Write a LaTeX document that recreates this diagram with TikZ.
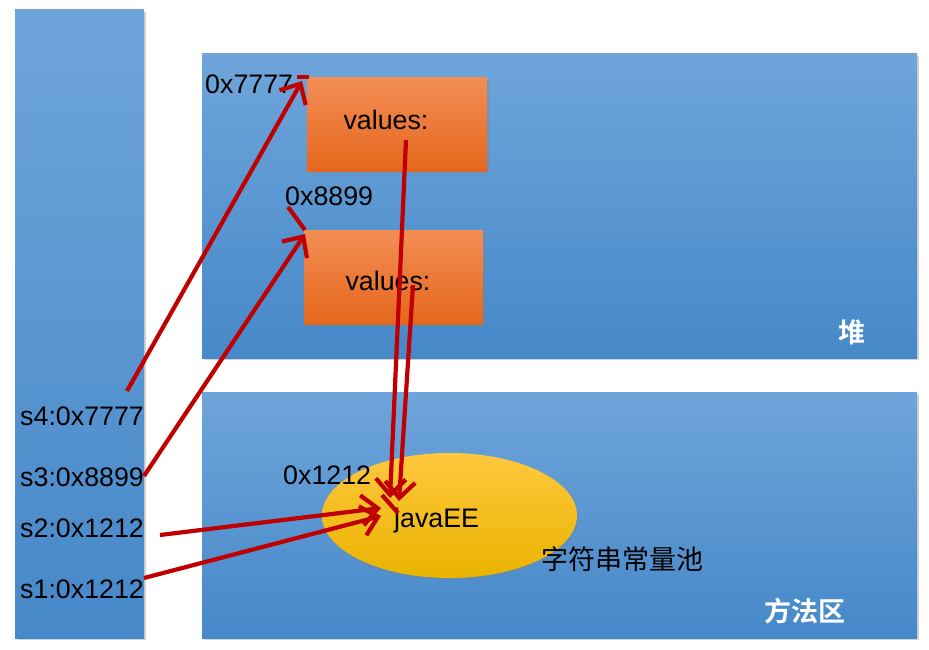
\documentclass[tikz,border=0pt]{standalone}
\usepackage{fontspec}
\setmainfont{Liberation Sans}
\newfontfamily\cjk{Noto Sans CJK SC}
\newfontfamily\cjkb{Noto Sans CJK SC Bold}
\usetikzlibrary{shapes.geometric,arrows.meta,shadows}
\definecolor{bluetop}{HTML}{6EA5DA}
\definecolor{bluebot}{HTML}{4688C9}
\definecolor{orgtop}{HTML}{F38D55}
\definecolor{orgbot}{HTML}{E5671C}
\definecolor{yeltop}{HTML}{FFC83E}
\definecolor{yelbot}{HTML}{E9B300}
\definecolor{arrowred}{HTML}{C00000}
\tikzset{
  area/.style={draw=none, top color=bluetop, bottom color=bluebot, inner sep=0pt,
    drop shadow={shadow xshift=2pt, shadow yshift=-2pt, opacity=0.35}},
  objbox/.style={draw=none, top color=orgtop, bottom color=orgbot, inner sep=0pt,
    minimum width=180pt, minimum height=93pt,
    drop shadow={shadow xshift=2pt, shadow yshift=-2pt, opacity=0.35}},
  pool/.style={ellipse, draw=none, top color=yeltop, bottom color=yelbot, inner sep=0pt,
    minimum width=255pt, minimum height=125pt,
    drop shadow={shadow xshift=1pt, shadow yshift=-2pt, opacity=0.3}},
  txt/.style={font=\fontsize{26.8}{30}\selectfont, inner sep=0pt, text=black},
  cjktxt/.style={font=\cjk\fontsize{27}{30}\selectfont, inner sep=0pt, text=black},
  whitelabel/.style={font=\cjkb\fontsize{27}{30}\selectfont, inner sep=0pt, text=white},
  ref/.style={draw=arrowred, line width=4.2pt, -{Straight Barb[length=16pt,width=30pt]}},
  frag/.style={draw=arrowred, line width=4.2pt}
}
\begin{document}
\begin{tikzpicture}[x=1pt,y=-1pt]
\useasboundingbox[fill=white] (0,0) rectangle (929,650);
% areas
\node[area, minimum width=129pt, minimum height=628pt] (stack) at (79.5,324) {};
\node[area, minimum width=715pt, minimum height=304pt] (heap) at (559.5,206) {};
\node[area, minimum width=715pt, minimum height=246pt] (method) at (559.5,515) {};
\node[objbox] (box1) at (397,124.5) {};
\node[objbox, minimum width=179pt, minimum height=94pt] (box2) at (393.5,277) {};
\node[pool] (pool) at (449.5,515.5) {};
% texts
\node[txt] (v1) at (386,120) {values:};
\node[txt] (v2) at (388,281) {values:};
\node[txt, anchor=base west] (a7777) at (205,94) {0x7777};
\node[txt, anchor=base west] (a8899) at (285,205) {0x8899};
\node[txt, anchor=base west] (a1212) at (283,484) {0x1212};
\node[txt, anchor=base west] (java) at (394,527) {javaEE};
\node[cjktxt] (poolname) at (622,559) {字符串常量池};
\node[whitelabel] (heapname) at (852,332) {堆};
\node[whitelabel] (methodname) at (805,611) {方法区};
\node[txt, anchor=base west] (s4) at (20,425) {s4:0x7777};
\node[txt, anchor=base west] (s3) at (20,486) {s3:0x8899};
\node[txt, anchor=base west] (s2) at (20,537) {s2:0x1212};
\node[txt, anchor=base west] (s1) at (20,598) {s1:0x1212};
% coordinates for connectors
\coordinate (s4o) at (127,391);
\coordinate (s4t) at (302,81);
\coordinate (s3o) at (144,476);
\coordinate (s3t) at (305,234);
\coordinate (s2o) at (160,535);
\coordinate (s2t) at (381,508);
\coordinate (s1o) at (144,578);
\coordinate (s1t) at (381,516);
\coordinate (v1o) at (406,140);
\coordinate (v1t) at (390,498);
\coordinate (v2o) at (413,285);
\coordinate (v2t) at (399,501);
\coordinate (f1a) at (297,77);
\coordinate (f1b) at (309,77);
\coordinate (f2a) at (288,207);
\coordinate (f2b) at (305,230);
\coordinate (f3a) at (382,495);
\coordinate (f3b) at (398,513);
% connectors
\draw[ref] (s4o) -- (s4t);
\draw[ref] (s3o) -- (s3t);
\draw[ref] (s2o) -- (s2t);
\draw[ref] (s1o) -- (s1t);
\draw[ref] (v1o) -- (v1t);
\draw[ref] (v2o) -- (v2t);
\draw[frag] (f1a) -- (f1b);
\draw[frag] (f2a) -- (f2b);
\draw[frag] (f3a) -- (f3b);
\end{tikzpicture}
\end{document}
